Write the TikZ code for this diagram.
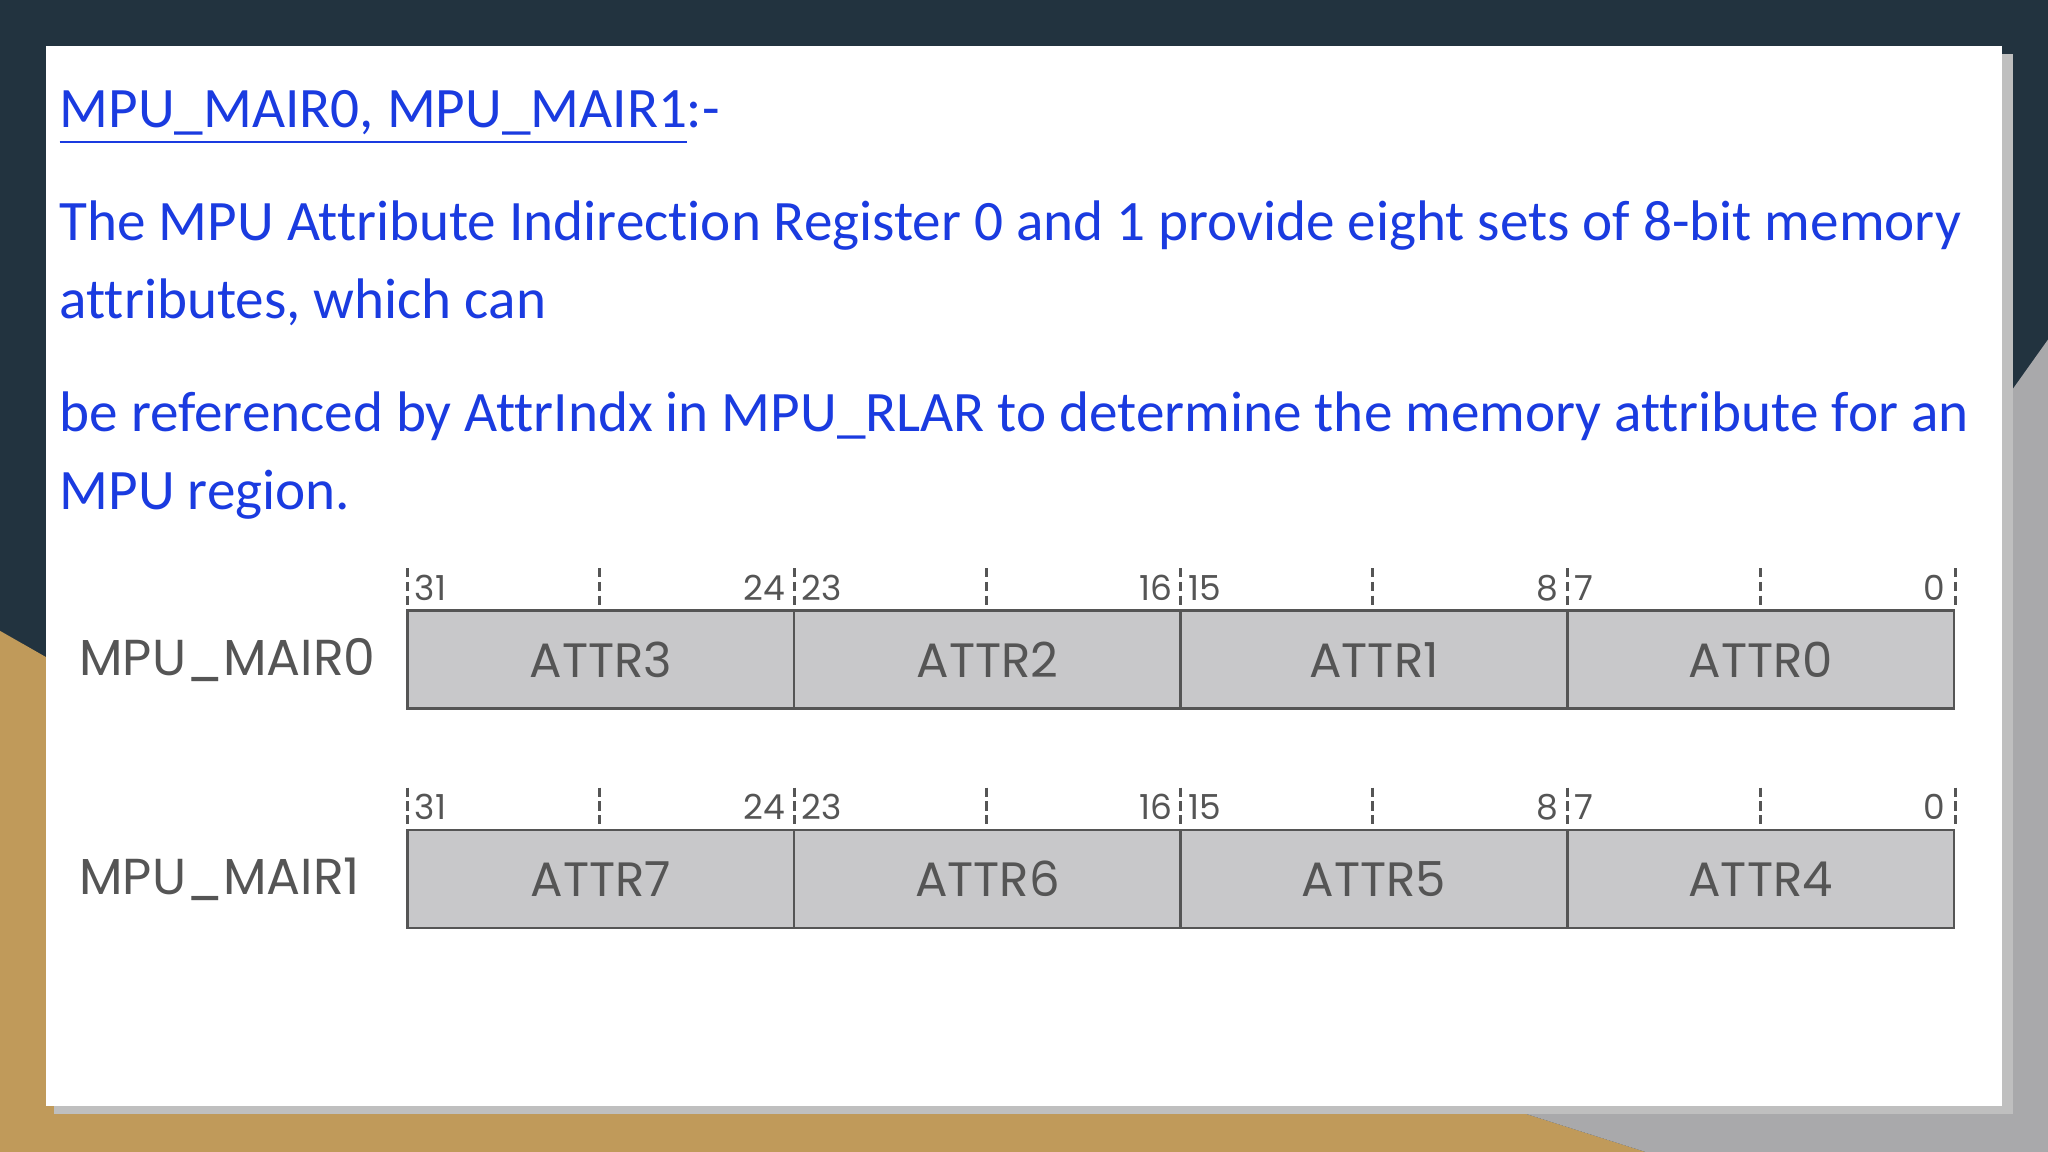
\documentclass[tikz,border=0pt]{standalone}
\usepackage{fontspec}
\setmainfont[RawFeature=-liga]{Carlito}
\newfontfamily\regfont{Poppins}
\usepackage{xcolor}
\definecolor{navy}{HTML}{22333F}
\definecolor{gold}{HTML}{C09A5A}
\definecolor{slate}{HTML}{A9A9AB}
\definecolor{bodyblue}{HTML}{1A3BE0}
\definecolor{fieldgray}{HTML}{C8C8CA}
\definecolor{inkgray}{HTML}{555555}

\begin{document}
\begin{tikzpicture}[x=0.01cm, y=-0.01cm]
    \tikzstyle{para} = [anchor=base west, inner sep=0, text=bodyblue, font=\fontsize{12.45}{14}\selectfont]
    \tikzstyle{field} = [rectangle, draw=inkgray, fill=fieldgray, line width=0.6pt, minimum width=2.96cm, minimum height=0.75cm, inner sep=0, text=inkgray, font=\regfont\fontsize{10.5}{12}\selectfont]
    \tikzstyle{reglabel} = [anchor=west, inner sep=0, text=inkgray, font=\regfont\fontsize{11}{12}\selectfont]
    \tikzstyle{bitnum} = [inner sep=0, text=inkgray, font=\regfont\fontsize{7.5}{8}\selectfont]
    \tikzstyle{tick} = [draw=inkgray, line width=0.6pt, dash pattern=on 2pt off 1pt]

    % Background
    \useasboundingbox (0,0) rectangle (1568,882);
    \fill [navy] (0,0) rectangle (1568,882);
    \fill [gold] (0,483) -- (700,882) -- (0,882) -- cycle;
    \fill [gold] (0,700) -- (0,882) -- (1260,882) -- (1150,847) -- cycle;
    \fill [slate] (1150,847) -- (1568,260) -- (1568,882) -- (1260,882) -- cycle;
    \fill [black!25] (41,41) rectangle (1541,853);
    \fill [white] (35,35) rectangle (1533,847);

    % Text
    \node [para] (title) at (45,98) {\underline{MPU\_MAIR0, MPU\_MAIR1}:-};
    \node [para] (line1) at (45,184) {The MPU Attribute Indirection Register 0 and 1 provide eight sets of 8-bit memory};
    \node [para] (line2) at (45,244) {attributes, which can};
    \node [para] (line3) at (45,330) {be referenced by AttrIndx in MPU\_RLAR to determine the memory attribute for an};
    \node [para] (line4) at (45,390) {MPU region.};

    % Registers
    \foreach \r/\yy/\lbl/\a/\b/\c/\d in {0/505/MPU\_MAIR0/ATTR3/ATTR2/ATTR1/ATTR0, 1/673/MPU\_MAIR1/ATTR7/ATTR6/ATTR5/ATTR4} {
        \node [reglabel] (name\r) at (60,\yy) {\lbl};
        \node [field] (f\r a) at (460,\yy) {\a};
        \node [field] (f\r b) at (756,\yy) {\b};
        \node [field] (f\r c) at (1052,\yy) {\c};
        \node [field] (f\r d) at (1348,\yy) {\d};
        \foreach \xx in {312,459,608,755,904,1051,1200,1348,1497}
            \draw [tick] (\xx,\yy-70) -- (\xx,\yy-40);
        \foreach \xx/\hi/\lo in {312/31/24, 608/23/16, 904/15/8, 1200/7/0} {
            \node [bitnum, anchor=west] at (\xx+5,\yy-55) {\hi};
            \node [bitnum, anchor=east] at (\xx+290,\yy-55) {\lo};
        }
    }
\end{tikzpicture}
\end{document}
